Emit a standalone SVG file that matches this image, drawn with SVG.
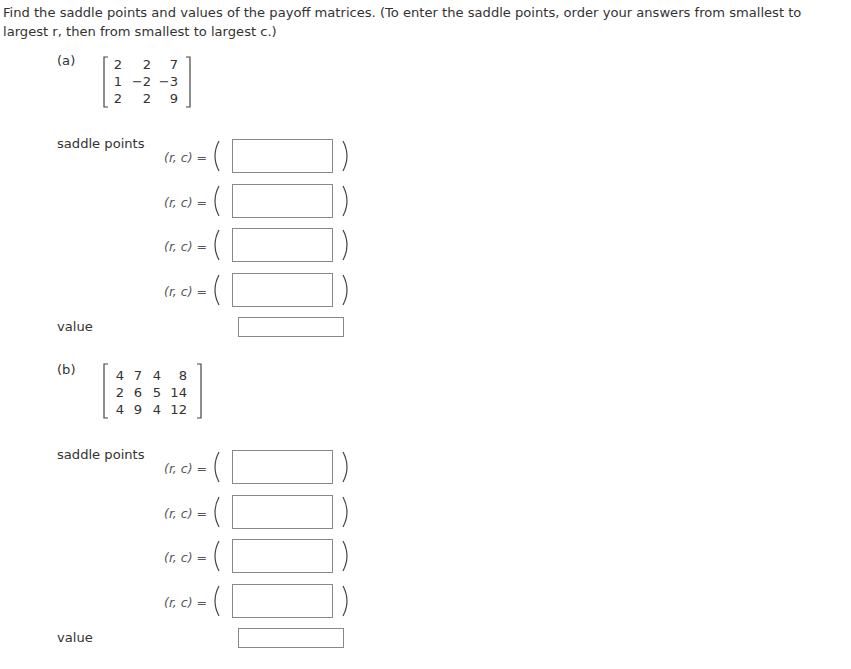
<svg xmlns="http://www.w3.org/2000/svg" width="851" height="669" viewBox="0 0 851 669">
<style>
text{font-family:"DejaVu Sans",Verdana,sans-serif;font-size:13.1px;fill:#333}
.m{font-size:12px}
.i{font-style:italic;fill:#555;font-size:12.5px}
.b{fill:#fff;stroke:#888;stroke-width:1}
.br{fill:none;stroke:#444;stroke-width:1.2}
</style>
<rect width="851" height="669" fill="#fff"/>
<text x="3" y="17">Find the saddle points and values of the payoff matrices. (To enter the saddle points, order your answers from smallest to</text>
<text x="3" y="36">largest r, then from smallest to largest c.)</text>
<text x="57" y="65">(a)</text>
<path class="br" d="M108,57 H104 V107 H108 M186,57 H190 V107 H186"/>
<g class="m" text-anchor="end">
<text x="122" y="69">2</text><text x="151" y="69">2</text><text x="178" y="69">7</text>
<text x="122" y="86">1</text><text x="151" y="86">−2</text><text x="178" y="86">−3</text>
<text x="122" y="103">2</text><text x="151" y="103">2</text><text x="178" y="103">9</text>
</g>
<text x="57" y="148">saddle points</text>
<g id="a-rows">
<g transform="translate(0,0)"><text class="i" x="164" y="162">(r, c) =</text><path class="br" d="M219,141 Q211,156 219,171 M343,141 Q351,156 343,171"/><rect class="b" x="232.5" y="139.5" width="100" height="33"/></g>
<g transform="translate(0,45)"><text class="i" x="164" y="162">(r, c) =</text><path class="br" d="M219,141 Q211,156 219,171 M343,141 Q351,156 343,171"/><rect class="b" x="232.5" y="139.5" width="100" height="33"/></g>
<g transform="translate(0,89)"><text class="i" x="164" y="162">(r, c) =</text><path class="br" d="M219,141 Q211,156 219,171 M343,141 Q351,156 343,171"/><rect class="b" x="232.5" y="139.5" width="100" height="33"/></g>
<g transform="translate(0,134)"><text class="i" x="164" y="162">(r, c) =</text><path class="br" d="M219,141 Q211,156 219,171 M343,141 Q351,156 343,171"/><rect class="b" x="232.5" y="139.5" width="100" height="33"/></g>
</g>
<text x="57" y="331">value</text>
<rect class="b" x="238.5" y="317.5" width="105" height="19"/>

<text x="57" y="374">(b)</text>
<path class="br" d="M108,364 H104 V418 H108 M197,364 H201 V418 H197"/>
<g class="m" text-anchor="end">
<text x="124" y="380">4</text><text x="142" y="380">7</text><text x="161" y="380">4</text><text x="187" y="380">8</text>
<text x="124" y="397">2</text><text x="142" y="397">6</text><text x="161" y="397">5</text><text x="187" y="397">14</text>
<text x="124" y="414">4</text><text x="142" y="414">9</text><text x="161" y="414">4</text><text x="187" y="414">12</text>
</g>
<text x="57" y="459">saddle points</text>
<g id="b-rows">
<g transform="translate(0,311)"><text class="i" x="164" y="162">(r, c) =</text><path class="br" d="M219,141 Q211,156 219,171 M343,141 Q351,156 343,171"/><rect class="b" x="232.5" y="139.5" width="100" height="33"/></g>
<g transform="translate(0,356)"><text class="i" x="164" y="162">(r, c) =</text><path class="br" d="M219,141 Q211,156 219,171 M343,141 Q351,156 343,171"/><rect class="b" x="232.5" y="139.5" width="100" height="33"/></g>
<g transform="translate(0,400)"><text class="i" x="164" y="162">(r, c) =</text><path class="br" d="M219,141 Q211,156 219,171 M343,141 Q351,156 343,171"/><rect class="b" x="232.5" y="139.5" width="100" height="33"/></g>
<g transform="translate(0,445)"><text class="i" x="164" y="162">(r, c) =</text><path class="br" d="M219,141 Q211,156 219,171 M343,141 Q351,156 343,171"/><rect class="b" x="232.5" y="139.5" width="100" height="33"/></g>
</g>
<text x="57" y="642">value</text>
<rect class="b" x="238.5" y="628.5" width="105" height="19"/>
</svg>
